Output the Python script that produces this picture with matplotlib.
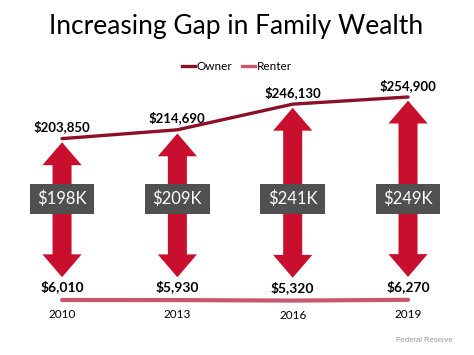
import matplotlib
matplotlib.use("Agg")
import matplotlib.pyplot as plt
from matplotlib.lines import Line2D
from matplotlib.patches import Rectangle, FancyArrow

years = ["2010", "2013", "2016", "2019"]
owner = [203850, 214690, 246130, 254900]
renter = [6010, 5930, 5320, 6270]
gap_labels = ["$198K", "$209K", "$241K", "$249K"]

owner_color = "#8c1027"
renter_color = "#c9566c"
arrow_color = "#c8102e"
box_color = "#505050"

plt.rcParams["font.family"] = ["Lato", "DejaVu Sans"]

fig = plt.figure(figsize=(4.74, 3.55), dpi=100)
ax = fig.add_axes([0, 0, 1, 1])
ax.set_xlim(-0.538, 3.572)
ax.set_ylim(-61400, 373800)
ax.axis("off")

x = list(range(len(years)))

# double arrows showing the gap
shaft_w = 0.165
head_w = 0.34
head_len = 28000
box_y = 130000
for i in x:
    top = owner[i] - 4500
    bottom = renter[i] + 28000
    ax.add_patch(FancyArrow(i, box_y, 0, top - box_y, width=shaft_w, head_width=head_w,
                            head_length=head_len, length_includes_head=True,
                            color=arrow_color, lw=0, zorder=2))
    ax.add_patch(FancyArrow(i, box_y, 0, bottom - box_y, width=shaft_w, head_width=head_w,
                            head_length=head_len, length_includes_head=True,
                            color=arrow_color, lw=0, zorder=2))
    ax.add_patch(Rectangle((i - 0.28, box_y - 18400), 0.56, 36800,
                           facecolor=box_color, edgecolor="none", zorder=3))
    ax.text(i, box_y, gap_labels[i], color="white", fontsize=12,
            ha="center", va="center", zorder=4)

ax.plot(x, owner, color=owner_color, lw=2.4, solid_capstyle="round", zorder=3)
ax.plot(x, renter, color=renter_color, lw=3.0, solid_capstyle="round", zorder=3)

for i in x:
    ax.annotate(f"${owner[i]:,}", (i, owner[i]), xytext=(0, 8.5), textcoords="offset points",
                ha="center", va="center", fontsize=9.5, fontweight="bold")
    ax.annotate(f"${renter[i]:,}", (i, renter[i]), xytext=(0, 9.5), textcoords="offset points",
                ha="center", va="center", fontsize=10, fontweight="bold")
    ax.annotate(years[i], (i, renter[i]), xytext=(0, -10.5), textcoords="offset points",
                ha="center", va="center", fontsize=8.5)

handles = [Line2D([], [], color=owner_color, lw=2.4),
           Line2D([], [], color=renter_color, lw=2.4)]
ax.legend(handles, ["Owner", "Renter"], loc="center", bbox_to_anchor=(0.5, 0.812),
          ncol=2, frameon=False, fontsize=8.5, handlelength=1.1, handletextpad=0.15,
          columnspacing=0.8)

fig.text(0.497, 0.925, "Increasing Gap in Family Wealth", ha="center", va="center",
         fontsize=19)
fig.text(0.955, 0.042, "Federal Reserve", ha="right", va="center", fontsize=5.5,
         color="#9a9a9a", family=["Liberation Sans", "DejaVu Sans"])

fig.savefig("out.png", dpi=100)
